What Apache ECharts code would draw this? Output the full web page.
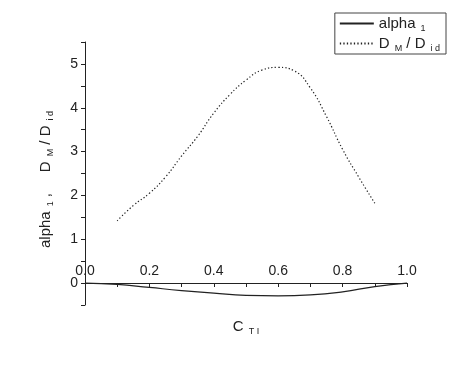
<!DOCTYPE html>
<html><head><meta charset="utf-8">
<script src="https://cdn.jsdelivr.net/npm/echarts@6/dist/echarts.min.js"></script>
<style>html,body{margin:0;padding:0;background:#fff}#c{width:474px;height:366px}</style>
</head><body><div id="c"></div>
<script>
const xTicks = [0.0, 0.2, 0.4, 0.6, 0.8, 1.0];
const xMinorTicks = [0.0, 0.1, 0.2, 0.3, 0.4, 0.5, 0.6, 0.7, 0.8, 0.9, 1.0];
const yTicks = [0, 1, 2, 3, 4, 5];
const yMinorTicks = [-0.5, 0, 0.5, 1, 1.5, 2, 2.5, 3, 3.5, 4, 4.5, 5, 5.5];
const alphaX = [0.0, 0.1, 0.2, 0.3, 0.4, 0.5, 0.6, 0.7, 0.8, 0.9, 1.0];
const alphaY = [0.0, -0.03, -0.1, -0.17, -0.23, -0.28, -0.29, -0.27, -0.2, -0.08, 0.0];
const dX = [0.10, 0.15, 0.20, 0.25, 0.30, 0.35, 0.40, 0.45, 0.50, 0.55, 0.60, 0.65, 0.70, 0.75, 0.80, 0.85, 0.90];
const dY = [1.42, 1.77, 2.05, 2.42, 2.90, 3.35, 3.88, 4.30, 4.63, 4.86, 4.92, 4.84, 4.45, 3.80, 3.05, 2.42, 1.82];

const FONT = 'Liberation Sans, Arial, sans-serif';
const C = '#222';
const chart = echarts.init(document.getElementById('c'));
const main = {fontSize: 15, fontFamily: FONT, color: C};
const sub = {fontSize: 9, fontFamily: FONT, color: C, padding: [10, 0, 0, 0]};
chart.setOption({
  animation: false,
  grid: {left: 85, right: 67, top: 42, bottom: 61},
  legend: {
    orient: 'vertical', right: 28, top: 13,
    borderColor: '#444', borderWidth: 1, padding: [3, 6, 1, 4],
    itemWidth: 34, itemHeight: 10, itemGap: 3,
    itemStyle: {color: 'rgba(0,0,0,0)', borderWidth: 0},
    data: ['alpha', 'DM'],
    formatter: n => n === 'alpha' ? '{m|alpha}{s|  1}' : '{m|D}{s|  M}{m| / D}{s|  i d}',
    textStyle: {rich: {m: main, s: sub}}
  },
  xAxis: [{
    type: 'value', min: 0, max: 1, position: 'top', offset: -241,
    axisLine: {onZero: false, lineStyle: {color: C, width: 1}},
    axisTick: {show: true, inside: true, customValues: xMinorTicks, length: 4, lineStyle: {color: C}},
    splitLine: {show: false},
    axisLabel: {customValues: xTicks, formatter: v => v.toFixed(1), fontSize: 14, fontFamily: FONT, color: C, margin: 5}
  }, {
    type: 'value', min: 0, max: 1, position: 'bottom',
    axisLine: {show: false}, axisTick: {show: false}, axisLabel: {show: false}, splitLine: {show: false},
    name: '{m|C}{s|  T I}', nameLocation: 'middle', nameGap: 12,
    nameTextStyle: {rich: {m: main, s: sub}}
  }],
  yAxis: {
    type: 'value', min: -0.5, max: 5.5,
    axisLine: {show: true, lineStyle: {color: C, width: 1}},
    axisTick: {show: true, customValues: yMinorTicks, length: 4, lineStyle: {color: C}},
    splitLine: {show: false},
    axisLabel: {customValues: yTicks, fontSize: 14, fontFamily: FONT, color: C, margin: 7},
    name: '{m|alpha}{s|  1}{m| ,     D}{s|  M}{m| / D}{s|  i d}',
    nameLocation: 'middle', nameRotate: 90, nameGap: 30,
    nameTextStyle: {rich: {m: main, s: sub}, padding: [0, 12, 0, 0]}
  },
  series: [{
    name: 'alpha', type: 'line', smooth: true, symbol: 'none',
    lineStyle: {color: C, width: 1.2},
    data: alphaX.map((x, i) => [x, alphaY[i]])
  }, {
    name: 'DM', type: 'line', smooth: true, symbol: 'none',
    lineStyle: {color: C, width: 1.2, type: [1.3, 2.2]},
    data: dX.map((x, i) => [x, dY[i]])
  }]
});
</script></body></html>
